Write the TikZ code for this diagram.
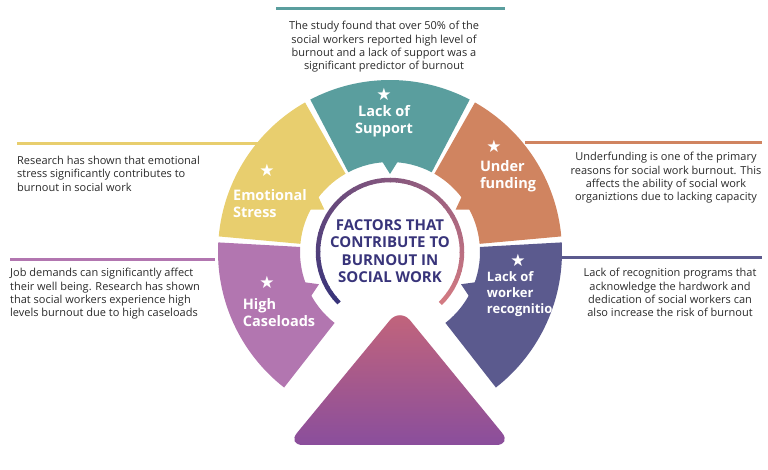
\documentclass[tikz,border=0pt]{standalone}
\usepackage{fontspec}
\setmainfont{Open Sans}
\newfontfamily\symf{DejaVu Sans}
\usetikzlibrary{calc}
\definecolor{cTeal}{HTML}{5A9E9E}
\definecolor{cYel}{HTML}{E8CE6E}
\definecolor{cOra}{HTML}{D08460}
\definecolor{cPur}{HTML}{B276B0}
\definecolor{cBlu}{HTML}{5B5A8E}
\definecolor{cNavy}{HTML}{38347A}
\definecolor{cPink}{HTML}{D27A82}
\definecolor{cTri1}{HTML}{C4657A}
\definecolor{cTri2}{HTML}{8A4E9C}
\definecolor{cTxt}{HTML}{2A2A2A}
\newcommand{\segm}[3]{%
  \fill[#1] ($(c)+(#2:172)$) arc[start angle=#2,end angle=#3,radius=172pt]
    -- ($(c)+(#3:90)$) arc[start angle=#3,end angle=#2,radius=90pt] -- cycle;
  \pgfmathsetmacro\mid{(#2+#3)/2}
  \fill[#1] ($(c)+(\mid-5:91)$) -- ($(c)+(\mid:78)$) -- ($(c)+(\mid+5:91)$) -- cycle;}
\begin{document}
\begin{tikzpicture}[x=1pt,y=1pt,
  body/.style={font=\fontsize{11}{13.4}\selectfont, text=cTxt, inner sep=0},
  lab/.style={font=\fontsize{14.5}{17}\selectfont\bfseries, text=white, align=left, inner sep=0},
  starx/.style={font=\symf\fontsize{17}{17}\selectfont, text=white, inner sep=0},
  bar/.style={line width=3pt}]
\useasboundingbox (0,0) rectangle (768,470);
\coordinate (c) at (390,218);
% bars
\draw[bar,cTeal] (276,461) coordinate (t1) -- (505,461) coordinate (t2);
\draw[bar,cYel] (17,326) coordinate (y1) -- (262,326) coordinate (y2);
\draw[bar,cPur] (10,210) coordinate (p1) -- (215,210) coordinate (p2);
\draw[bar,cOra] (525,327) coordinate (o1) -- (762,327) coordinate (o2);
\draw[bar,cBlu] (560,212) coordinate (b1) -- (762,212) coordinate (b2);
% segments
\segm{cPur}{232}{176.8}
\segm{cYel}{174.8}{119.6}
\segm{cTeal}{117.6}{62.4}
\segm{cOra}{60.4}{5.2}
\segm{cBlu}{3.2}{-52}
% inner gradient arc
\foreach \i in {0,...,53}{
  \pgfmathsetmacro\a{225-5*\i}
  \pgfmathsetmacro\p{100-\i*100/53}
  \draw[line width=4.5pt, cNavy!\p!cPink] ($(c)+(\a:72)$) arc[start angle=\a,end angle=\a-5.6,radius=72pt];
}
\node[font=\fontsize{15}{17.5}\selectfont\bfseries, text=cNavy, align=center, inner sep=0] (title) at (390,219)
  {FACTORS THAT\\CONTRIBUTE TO\\BURNOUT IN\\SOCIAL WORK};
% triangle
\shade[top color=cTri1, bottom color=cTri2, rounded corners=16pt] (400,162) -- (512,25) -- (287,25) -- cycle;
% labels
\node[starx] (s1) at (384,376) {★};
\node[lab, align=center] (l1) at (384,349) {Lack of\\Support};
\node[starx] (s2) at (267,300) {★};
\node[lab] (l2) at (270,266) {Emotional\\Stress};
\node[starx] (s3) at (494,324) {★};
\node[lab] (l3) at (508,294) {Under\\funding};
\node[starx] (s4) at (267,188) {★};
\node[lab] (l4) at (279,157) {High\\Caseloads};
\node[starx] (s5) at (518,210) {★};
\node[lab, font=\fontsize{13}{16}\selectfont\bfseries] (l5) at (524,176) {Lack of\\worker\\recognition};
% texts
\node[body, align=center, anchor=north] (x1) at (384,449)
  {The study found that over 50\% of the\\social workers reported high level of\\burnout and a lack of support was a\\significant predictor of burnout};
\node[body, align=left, anchor=north west] (x2) at (17,314)
  {Research has shown that emotional\\stress significantly contributes to\\burnout in social work};
\node[body, align=left, anchor=north west] (x3) at (10,202)
  {Job demands can significantly affect\\their well being. Research has shown\\that social workers experience high\\levels burnout due to high caseloads};
\node[body, align=center, anchor=north] (x4) at (666,318)
  {Underfunding is one of the primary\\reasons for social work burnout. This\\affects the ability of social work\\organiztions due to lacking capacity};
\node[body, align=center, anchor=north] (x5) at (670,202)
  {Lack of recognition programs that\\acknowledge the hardwork and\\dedication of social workers can\\also increase the risk of burnout};
\end{tikzpicture}
\end{document}
